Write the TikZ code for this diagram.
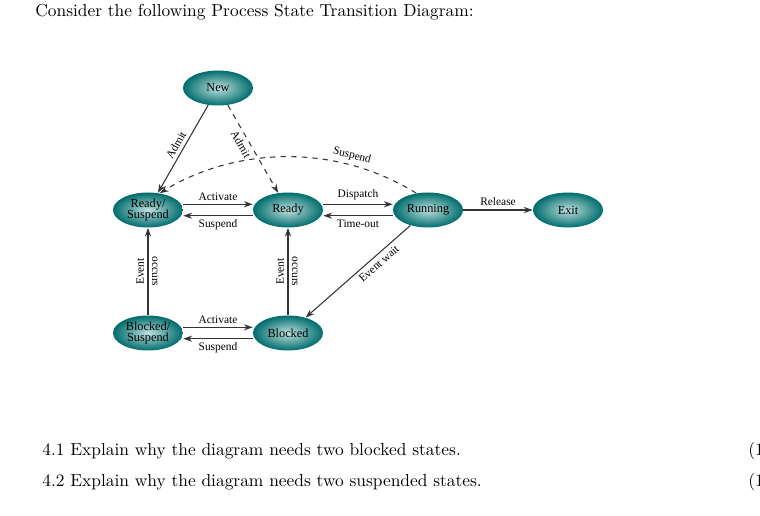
\documentclass[tikz,border=0pt]{standalone}
\usepackage{fontspec}
\newfontfamily\diagfont{Liberation Serif}
\usetikzlibrary{arrows.meta,shapes.geometric}

\tikzset{
    state/.style={ellipse, minimum width=1.4cm, minimum height=0.7cm, inner sep=0pt,
        shading=radial, inner color=teal!25, outer color=teal!85!black,
        font=\diagfont\fontsize{7}{7.5}\selectfont, align=center},
    trans/.style={draw=black!80, line width=0.6pt, -{Stealth[length=5pt,width=3.5pt]}},
    lbl/.style={font=\diagfont\fontsize{6.5}{7}\selectfont, inner sep=2pt},
    body/.style={font=\fontsize{9.9}{12}\selectfont, anchor=west, inner sep=0pt}
}

\begin{document}
\begin{tikzpicture}[x=0.02cm, y=-0.02cm]
\useasboundingbox (0,0) rectangle (760,516);

% Question text around the diagram
\node[body] (intro) at (35,12) {Consider the following Process State Transition Diagram:};
\node[body] (q1) at (42,451) {4.1 Explain why the diagram needs two blocked states.};
\node[body] (q2) at (42,482) {4.2 Explain why the diagram needs two suspended states.};
\node[body] (m1) at (748,451) {(1};
\node[body] (m2) at (748,482) {(1};

% The seven process states
\node[state] (new) at (218,88) {New};
\node[state] (readysusp) at (148,210) {Ready/\\[-1pt]Suspend};
\node[state] (ready) at (288,210) {Ready};
\node[state] (running) at (428,210) {Running};
\node[state] (exit) at (568,210) {Exit};
\node[state] (blockedsusp) at (148,333) {Blocked/\\[-1pt]Suspend};
\node[state] (blocked) at (288,333) {Blocked};

% Admission of a new process
\draw[trans] (new) -- node[lbl, above, sloped] {Admit} (readysusp);
\draw[trans, dashed] (new) -- node[lbl, below, sloped, pos=0.4] {Admit} (ready);

% Running process suspended straight away
\draw[trans, dashed] (running.125) .. controls (330,140) and (230,150) .. node[lbl, above, sloped, pos=0.25] {Suspend} (readysusp.55);

% Pairs of opposite transitions
\foreach \a/\b/\up/\down in {readysusp/ready/Activate/Suspend, ready/running/Dispatch/Time-out,
        blockedsusp/blocked/Activate/Suspend} {
    \draw[trans] ([yshift=6.5pt/2]\a.east) -- node[lbl, above] {\up} ([yshift=6.5pt/2]\b.west);
    \draw[trans] ([yshift=-6.5pt/2]\b.west) -- node[lbl, below] {\down} ([yshift=-6.5pt/2]\a.east);
}

\draw[trans] (running) -- node[lbl, above] {Release} (exit);
\draw[trans] (running) -- node[lbl, below, sloped, pos=0.35] {Event wait} (blocked);

% Event occurs, leaving a blocked state
\foreach \a/\b in {blockedsusp/readysusp, blocked/ready} {
    \draw[trans] (\a) -- (\b)
        node[lbl, midway, rotate=90, anchor=south] {Event}
        node[lbl, midway, rotate=-90, anchor=south] {occurs};
}
\end{tikzpicture}
\end{document}
